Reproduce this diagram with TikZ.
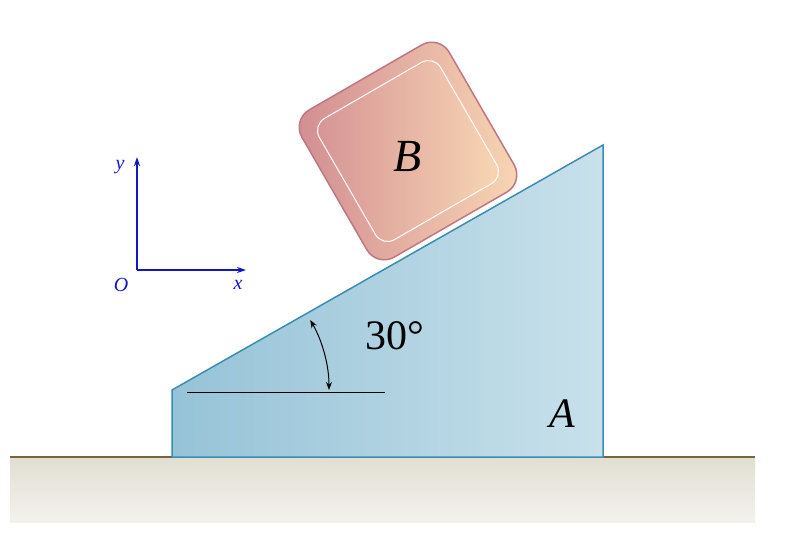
\documentclass[tikz,border=0pt]{standalone}
\usepackage{fontspec}
\setmainfont{Liberation Serif}
\usetikzlibrary{arrows.meta}
\definecolor{axblue}{RGB}{20,20,200}
\definecolor{wedgeA}{RGB}{150,195,215}
\definecolor{wedgeB}{RGB}{200,225,235}
\definecolor{wedgeline}{RGB}{60,140,180}
\definecolor{blkline}{RGB}{190,120,130}
\definecolor{blkA}{RGB}{210,140,145}
\definecolor{blkB}{RGB}{248,215,180}
\definecolor{ground}{RGB}{225,222,210}
\definecolor{groundline}{RGB}{120,100,60}
\tikzset{axis/.style={axblue,line width=1.5pt,-{Stealth[length=9pt,width=6pt]}},
 axlabel/.style={axblue,font=\itshape\fontsize{20}{20}\selectfont}}
\begin{document}
\begin{tikzpicture}[x=1pt,y=-1pt]
\useasboundingbox (0,0) rectangle (791,546);
% ground
\shade[top color=ground,bottom color=ground!40!white] (10,457) rectangle (755,522);
\draw[groundline,line width=1.2pt] (10,457) -- (755,457);
% wedge
\shade[left color=wedgeA,right color=wedgeB,draw=wedgeline,line width=1.5pt]
  (172,457) -- (172,390) -- (603,145) -- (603,457) -- cycle;
\coordinate (h1) at (187,392); \coordinate (h2) at (385,392);
\draw[line width=1pt] (h1) -- (h2);
\draw[line width=1pt,{Stealth[length=8pt]}-{Stealth[length=8pt]}] (329,390) arc[start angle=0,end angle=-30,radius=140];
\node[font=\fontsize{42}{42}\selectfont] (ang) at (395,336) {30°};
\node[font=\itshape\fontsize{42}{42}\selectfont] (A) at (562,414) {A};
% block
\begin{scope}[shift={(408,151)},rotate=30]
\shade[left color=blkA,right color=blkB,draw=blkline,line width=1.5pt,rounded corners=20pt] (-85,-85) rectangle (85,85);
\shade[left color=blkA!90!blkB,right color=blkB,draw=white,line width=1pt,rounded corners=14pt] (-70,-70) rectangle (70,70);
\end{scope}
\node[font=\itshape\fontsize{46}{46}\selectfont] (B) at (408,157) {B};
% axes
\coordinate (O) at (137,270);
\coordinate (Y) at (137,157);
\coordinate (X) at (246,270);
\draw[axis] (O) -- (Y);
\draw[axis] (O) -- (X);
\node[axlabel] (yl) at (120,167) {y};
\node[axlabel] (ol) at (121,285) {O};
\node[axlabel] (xl) at (238,285) {x};
\end{tikzpicture}
\end{document}
